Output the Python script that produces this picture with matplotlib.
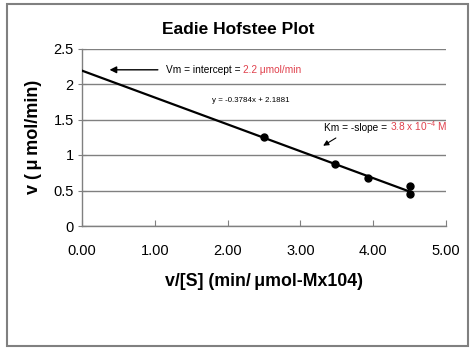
import matplotlib
matplotlib.use("Agg")
import matplotlib.pyplot as plt
from matplotlib.patches import Rectangle

x_vals = [2.50, 3.48, 3.93, 4.50, 4.50]
y_vals = [1.26, 0.88, 0.68, 0.56, 0.45]
slope = -0.3784
intercept = 2.1881
fit_x = [0.0, 4.5]
x_ticks = [0, 1, 2, 3, 4, 5]
x_tick_labels = ["0.00", "1.00", "2.00", "3.00", "4.00", "5.00"]
y_ticks = [0, 0.5, 1, 1.5, 2, 2.5]
y_tick_labels = ["0", "0.5", "1", "1.5", "2", "2.5"]

W, H = 474, 355
fig = plt.figure(figsize=(W/100, H/100), dpi=100)
plt.rcParams['font.family'] = ['Liberation Sans', 'DejaVu Sans']
plt.rcParams['mathtext.fontset'] = 'custom'
plt.rcParams['mathtext.rm'] = 'Liberation Sans'
plt.rcParams['mathtext.it'] = 'Liberation Sans'
plt.rcParams['mathtext.default'] = 'regular'
RED = '#e0404c'

# outer frame
fig.patches.append(Rectangle((7/W, 1 - 346/H), (468-7)/W, (346-4)/H, transform=fig.transFigure,
                             fill=False, edgecolor='#808080', linewidth=1.5))

ax = fig.add_axes([82/W, 1 - 226/H, (446-82)/W, (226-48.5)/H])
ax.set_xlim(0, 5)
ax.set_ylim(0, 2.5)
for s in ['top', 'right']:
    ax.spines[s].set_visible(False)
for s in ['left', 'bottom']:
    ax.spines[s].set_color('#808080')
    ax.spines[s].set_linewidth(1.0)
ax.set_yticks(y_ticks)
ax.set_yticklabels(y_tick_labels)
ax.set_xticks(x_ticks)
ax.set_xticklabels(x_tick_labels)
ax.yaxis.grid(True, color='#808080', linewidth=1.0)
ax.set_axisbelow(True)
ax.tick_params(axis='y', direction='inout', length=6, color='#808080', labelsize=10.5, pad=3)
ax.tick_params(axis='x', direction='in', length=4, color='#808080', labelsize=10.5, pad=13)

fit_y = [slope * v + intercept for v in fit_x]
ax.plot(fit_x, fit_y, color='black', linewidth=1.6, zorder=3)
ax.plot(x_vals, y_vals, 'o', color='black', markersize=5, zorder=4)

fig.text(238/W, 1 - 30/H, "Eadie Hofstee Plot", ha='center', va='center', fontsize=12.5, fontweight='bold')
ax.set_xlabel("v/[S] (min/\u2009\u03bcmol-Mx104)", fontsize=12.8, fontweight='bold', labelpad=11)
ax.set_ylabel("v (\u2009\u03bc\u2009mol/min)", fontsize=13, fontweight='bold', labelpad=8)

# annotations
ax.annotate("", xy=(0.34, 2.2), xytext=(1.08, 2.2),
            arrowprops=dict(arrowstyle='-|>', color='black', lw=1.0, mutation_scale=10))
t1 = ax.text(1.15, 2.2, "Vm = intercept = ", fontsize=7.3, va='center', ha='left')
fig.canvas.draw()
ax.annotate("2.2 \u03bcmol/min", xycoords=t1, xy=(1, 0.5), va='center', ha='left',
            fontsize=7.3, color=RED)

ax.text(2.32, 1.765, "y = -0.3784x + 2.1881", fontsize=5.7, ha='center', va='center')

km_y = 1.335
t2 = ax.text(3.33, km_y, "Km = -slope = ", fontsize=7.3, va='baseline', ha='left')
fig.canvas.draw()
ax.annotate("3.8 x 10$^{-4}$ M", xycoords=(t2, 'data'), xy=(1, km_y), va='baseline', ha='left',
            fontsize=7.3, color=RED)
ax.annotate("", xy=(3.28, 1.11), xytext=(3.52, 1.26),
            arrowprops=dict(arrowstyle='-|>', color='black', lw=0.8, mutation_scale=8))

fig.savefig("out.png", dpi=100)
